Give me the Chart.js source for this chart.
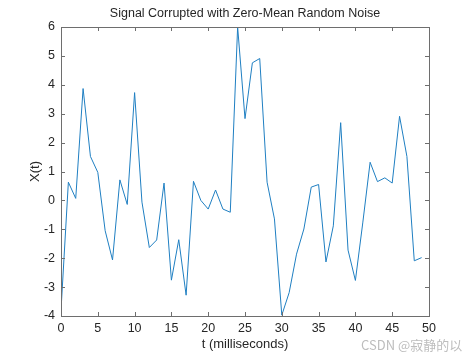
<!DOCTYPE html>
<html>
<head>
<meta charset="utf-8">
<script src="https://cdn.jsdelivr.net/npm/chart.js@4/dist/chart.umd.min.js"></script>
<style>
  html, body { margin: 0; padding: 0; background: #fff; }
  #wrap { position: relative; width: 474px; height: 355px; }
  #wm { position: absolute; left: 361px; top: 335px; font-family: "Noto Sans CJK SC", "Liberation Sans", sans-serif; font-size: 13px; color: #bdbdbd; white-space: nowrap; }
</style>
</head>
<body>
<div id="wrap">
  <canvas id="c" width="474" height="355"></canvas>
  <div id="wm">CSDN @寂静的以</div>
</div>
<script>
const tValues = [0,1,2,3,4,5,6,7,8,9,10,11,12,13,14,15,16,17,18,19,20,21,22,23,24,25,26,27,28,29,30,31,32,33,34,35,36,37,38,39,40,41,42,43,44,45,46,47,48,49];
const xValues = [-3.8,0.63,0.07,3.87,1.52,0.97,-1.05,-2.06,0.71,-0.14,3.73,-0.06,-1.63,-1.37,0.6,-2.76,-1.36,-3.28,0.66,0.0,-0.3,0.36,-0.3,-0.41,6.0,2.83,4.76,4.91,0.63,-0.64,-3.97,-3.19,-1.86,-0.99,0.46,0.55,-2.13,-0.88,2.69,-1.72,-2.77,-0.78,1.32,0.65,0.78,0.6,2.91,1.52,-2.09,-1.98];
const titleText = 'Signal Corrupted with Zero-Mean Random Noise';
const xTitle = 't (milliseconds)';
const yTitle = 'X(t)';

const FONT = '"Liberation Sans", Arial, sans-serif';
const TEXT = '#262626';
const AXIS = '#6e6e6e';

const boxPlugin = {
  id: 'matlabBox',
  afterDraw(chart) {
    const {ctx, chartArea: a, scales} = chart;
    ctx.save();
    ctx.strokeStyle = AXIS;
    ctx.lineWidth = 1;
    ctx.strokeRect(Math.round(a.left) + 0.5, Math.round(a.top) + 0.5, Math.round(a.right - a.left), Math.round(a.bottom - a.top));
    const tl = 4;
    ctx.beginPath();
    scales.x.ticks.forEach(t => {
      const px = Math.round(scales.x.getPixelForValue(t.value)) + 0.5;
      ctx.moveTo(px, a.bottom); ctx.lineTo(px, a.bottom - tl);
      ctx.moveTo(px, a.top); ctx.lineTo(px, a.top + tl);
    });
    scales.y.ticks.forEach(t => {
      const py = Math.round(scales.y.getPixelForValue(t.value)) + 0.5;
      ctx.moveTo(a.left, py); ctx.lineTo(a.left + tl, py);
      ctx.moveTo(a.right, py); ctx.lineTo(a.right - tl, py);
    });
    ctx.stroke();
    ctx.restore();
  }
};

new Chart(document.getElementById('c'), {
  type: 'line',
  data: {
    datasets: [{
      data: tValues.map((t, i) => ({x: t, y: xValues[i]})),
      borderColor: '#1f7fc2',
      borderWidth: 1,
      pointRadius: 0,
      tension: 0,
      fill: false
    }]
  },
  options: {
    responsive: false,
    animation: false,
    layout: { padding: { left: 0, right: 45, top: 0, bottom: 0 } },
    plugins: {
      legend: { display: false },
      tooltip: { enabled: false },
      title: {
        display: true,
        text: titleText,
        fullSize: false,
        color: TEXT,
        font: { family: FONT, size: 12.5, weight: 'normal' },
        padding: { top: 6, bottom: 6 }
      }
    },
    scales: {
      x: {
        type: 'linear',
        min: 0, max: 50,
        grid: { display: false, drawTicks: false },
        border: { display: false },
        ticks: { stepSize: 5, color: TEXT, font: { family: FONT, size: 12.5 }, padding: 5, maxRotation: 0 },
        title: { display: true, text: xTitle, color: TEXT, font: { family: FONT, size: 13 }, padding: { top: 0, bottom: 3.2 } },
        afterFit(s) { s.height = 39; }
      },
      y: {
        min: -4, max: 6,
        grid: { display: false, drawTicks: false },
        border: { display: false },
        ticks: { stepSize: 1, color: TEXT, font: { family: FONT, size: 12.5 }, padding: 6 },
        title: { display: true, text: yTitle, color: TEXT, font: { family: FONT, size: 13 }, padding: { top: 27.2, bottom: 0 } },
        afterFit(s) { s.width = 61; }
      }
    }
  },
  plugins: [boxPlugin]
});
</script>
</body>
</html>
